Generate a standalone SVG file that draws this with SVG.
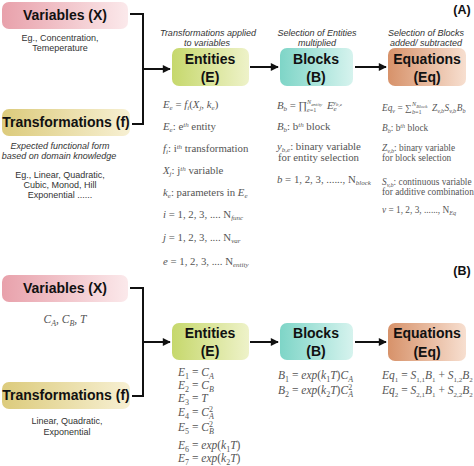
<svg xmlns="http://www.w3.org/2000/svg" width="474" height="466" viewBox="0 0 474 466">
<style>
.lbl{font-family:"Liberation Sans",Arial,sans-serif;font-weight:bold;font-size:14px;fill:#111;text-anchor:middle}
.tag{font-family:"Liberation Sans",Arial,sans-serif;font-weight:bold;font-size:12.5px;fill:#111;text-anchor:middle}
.d{font-family:"Liberation Sans",Arial,sans-serif;font-size:9px;fill:#333;text-anchor:middle}
.h{font-family:"Liberation Sans",Arial,sans-serif;font-style:italic;font-size:9px;fill:#333;text-anchor:middle}
.f{font-family:"Liberation Serif","Times New Roman",serif;font-size:10.8px;fill:#555}
.fq{font-family:"Liberation Serif","Times New Roman",serif;font-size:9.3px;fill:#555}
.g{font-family:"Liberation Serif","Times New Roman",serif;font-size:11.5px;fill:#555}
.i{font-style:italic}
.s{font-size:7px}
.t{font-size:6.2px}
.u{font-size:5px}
.s2{font-size:8px}
.ln{fill:none;stroke:#111;stroke-width:2}
</style>
<defs>
<linearGradient id="gV" x1="0" y1="0" x2="1" y2="0"><stop offset="0" stop-color="#e8a1ab"/><stop offset="1" stop-color="#fbe9eb"/></linearGradient>
<linearGradient id="gT" x1="0" y1="0" x2="1" y2="0"><stop offset="0" stop-color="#dccb7c"/><stop offset="1" stop-color="#f7f0d3"/></linearGradient>
<linearGradient id="gE" x1="0" y1="0" x2="1" y2="0"><stop offset="0" stop-color="#c6d86c"/><stop offset="1" stop-color="#eef2c9"/></linearGradient>
<linearGradient id="gB" x1="0" y1="0" x2="1" y2="0"><stop offset="0" stop-color="#7ed5c7"/><stop offset="1" stop-color="#d6f3ee"/></linearGradient>
<linearGradient id="gQ" x1="0" y1="0" x2="1" y2="0"><stop offset="0" stop-color="#d7926a"/><stop offset="1" stop-color="#f7dfd0"/></linearGradient>
<marker id="ah" viewBox="0 0 10 10" refX="9" refY="5" markerWidth="4.5" markerHeight="4" orient="auto" markerUnits="strokeWidth"><path d="M0,0 L10,5 L0,10 z" fill="#111"/></marker>
</defs>

<text class="tag" x="462" y="14">(A)</text>
<text class="tag" x="462" y="275">(B)</text>

<!-- Panel A nodes -->
<g id="a-variables">
<rect x="2" y="2" width="126" height="27" rx="7" fill="url(#gV)"/>
<text class="lbl" x="65" y="20">Variables (X)</text>
<text class="d" x="60" y="41">Eg., Concentration,</text>
<text class="d" x="60" y="51">Temeperature</text>
</g>
<g id="a-transformations">
<rect x="2" y="109" width="128" height="27" rx="7" fill="url(#gT)"/>
<text class="lbl" x="66" y="127">Transformations (f)</text>
<text class="h" x="60" y="149">Expected functional form</text>
<text class="h" x="59" y="159">based on domain knowledge</text>
<text class="d" x="60" y="178">Eg., Linear, Quadratic,</text>
<text class="d" x="60" y="188">Cubic, Monod, Hill</text>
<text class="d" x="60" y="198">Exponential ......</text>
</g>
<g id="a-entities">
<text class="h" x="208" y="36">Transformations applied</text>
<text class="h" x="207" y="46">to variables</text>
<rect x="172" y="48" width="77" height="38" rx="7" fill="url(#gE)"/>
<text class="lbl" x="210" y="64">Entities</text>
<text class="lbl" x="210" y="82">(E)</text>
<g class="f">
<text x="163" y="108"><tspan class="i">E</tspan><tspan class="i s" baseline-shift="-2">e</tspan> = <tspan class="i">f</tspan><tspan class="i s" baseline-shift="-2">i</tspan>(<tspan class="i">X</tspan><tspan class="i s" baseline-shift="-2">j</tspan>, <tspan class="i">k</tspan><tspan class="i s" baseline-shift="-2">e</tspan>)</text>
<text x="163" y="130"><tspan class="i">E</tspan><tspan class="i s" baseline-shift="-2">e</tspan>: e<tspan class="i s" baseline-shift="3.5">th</tspan> entity</text>
<text x="163" y="152"><tspan class="i">f</tspan><tspan class="i s" baseline-shift="-2">i</tspan>: i<tspan class="i s" baseline-shift="3.5">th</tspan> transformation</text>
<text x="163" y="174"><tspan class="i">X</tspan><tspan class="i s" baseline-shift="-2">j</tspan>: j<tspan class="i s" baseline-shift="3.5">th</tspan> variable</text>
<text x="163" y="196"><tspan class="i">k</tspan><tspan class="i s" baseline-shift="-2">e</tspan>: parameters in <tspan class="i">E</tspan><tspan class="i s" baseline-shift="-2">e</tspan></text>
<text x="163" y="218"><tspan class="i">i</tspan> = 1, 2, 3, .... N<tspan class="i s" baseline-shift="-2">func</tspan></text>
<text x="163" y="241"><tspan class="i">j</tspan> = 1, 2, 3, .... N<tspan class="i s" baseline-shift="-2">var</tspan></text>
<text x="163" y="265"><tspan class="i">e</tspan> = 1, 2, 3, .... N<tspan class="i s" baseline-shift="-2">entity</tspan></text>
</g>
</g>
<g id="a-blocks">
<text class="h" x="317" y="36">Selection of Entities</text>
<text class="h" x="317" y="46">multiplied</text>
<rect x="280" y="48" width="73" height="38" rx="7" fill="url(#gB)"/>
<text class="lbl" x="316" y="64">Blocks</text>
<text class="lbl" x="316" y="82">(B)</text>
<g class="f">
<text x="277" y="109"><tspan class="i">B</tspan><tspan class="i s" baseline-shift="-2">b</tspan> = ∏</text>
<text class="t" x="307" y="104"><tspan class="i">N</tspan><tspan class="i u" baseline-shift="-1.5">entity</tspan></text>
<text class="t" x="307" y="112"><tspan class="i">e</tspan>=1</text>
<text x="327" y="109"><tspan class="i">E</tspan><tspan class="i s" baseline-shift="-2">e</tspan><tspan class="i t" dx="-3.5" baseline-shift="4.5">y</tspan><tspan class="i u" baseline-shift="3.5">b,e</tspan></text>
<text x="277" y="130"><tspan class="i">B</tspan><tspan class="i s" baseline-shift="-2">b</tspan>: b<tspan class="i s" baseline-shift="3.5">th</tspan> block</text>
<text x="277" y="150"><tspan class="i">y</tspan><tspan class="i s" baseline-shift="-2">b,e</tspan>: binary variable</text>
<text x="278" y="161">for entity selection</text>
<text x="277" y="183"><tspan class="i">b</tspan> = 1, 2, 3, ......, N<tspan class="i s" baseline-shift="-2">block</tspan></text>
</g>
</g>
<g id="a-equations">
<text class="h" x="426" y="36">Selection of Blocks</text>
<text class="h" x="426" y="46">added/ subtracted</text>
<rect x="388" y="48" width="78" height="38" rx="7" fill="url(#gQ)"/>
<text class="lbl" x="427" y="64">Equations</text>
<text class="lbl" x="427" y="82">(Eq)</text>
<g class="fq">
<text x="382" y="111"><tspan class="i">Eq</tspan><tspan class="i t" baseline-shift="-2">v</tspan> = ∑</text>
<text class="t" x="412" y="106"><tspan class="i">N</tspan><tspan class="i u" baseline-shift="-1.5">Block</tspan></text>
<text class="t" x="412" y="114"><tspan class="i">b</tspan>=1</text>
<text x="432" y="111"><tspan class="i">Z</tspan><tspan class="i t" baseline-shift="-2">v,b</tspan><tspan class="i" dx="0.5">S</tspan><tspan class="i t" baseline-shift="-2">v,b</tspan><tspan class="i" dx="0.5">B</tspan><tspan class="i t" baseline-shift="-2">b</tspan></text>
<text x="382" y="131"><tspan class="i">B</tspan><tspan class="i t" baseline-shift="-2">b</tspan>: b<tspan class="i t" baseline-shift="3.5">th</tspan> block</text>
<text x="382" y="151"><tspan class="i">Z</tspan><tspan class="i t" baseline-shift="-2">v,b</tspan>: binary variable</text>
<text x="382" y="161">for block selection</text>
<text x="382" y="185"><tspan class="i">S</tspan><tspan class="i t" baseline-shift="-2">v,b</tspan>: continuous variable</text>
<text x="382" y="195">for additive combination</text>
<text x="382" y="213"><tspan class="i">v</tspan> = 1, 2, 3, ......, N<tspan class="i t" baseline-shift="-2">Eq</tspan></text>
</g>
</g>

<!-- Panel B nodes -->
<g id="b-variables">
<rect x="2" y="275" width="126" height="27" rx="7" fill="url(#gV)"/>
<text class="lbl" x="65" y="293">Variables (X)</text>
<text class="g" x="65" y="323" text-anchor="middle" font-size="12.5"><tspan class="i">C</tspan><tspan class="i s2" baseline-shift="-2.5">A</tspan>, <tspan class="i">C</tspan><tspan class="i s2" baseline-shift="-2.5">B</tspan>, <tspan class="i">T</tspan></text>
</g>
<g id="b-transformations">
<rect x="2" y="382" width="128" height="27" rx="7" fill="url(#gT)"/>
<text class="lbl" x="66" y="400">Transformations (f)</text>
<text class="d" x="67" y="424">Linear, Quadratic,</text>
<text class="d" x="67" y="435">Exponential</text>
</g>
<g id="b-entities">
<rect x="172" y="323" width="77" height="37" rx="7" fill="url(#gE)"/>
<text class="lbl" x="210" y="338">Entities</text>
<text class="lbl" x="210" y="356">(E)</text>
<g class="g">
<text x="178" y="376"><tspan class="i">E</tspan><tspan class="s2" baseline-shift="-2.5">1</tspan> = <tspan class="i">C</tspan><tspan class="i s2" baseline-shift="-2.5">A</tspan></text>
<text x="178" y="389"><tspan class="i">E</tspan><tspan class="s2" baseline-shift="-2.5">2</tspan> = <tspan class="i">C</tspan><tspan class="i s2" baseline-shift="-2.5">B</tspan></text>
<text x="178" y="402"><tspan class="i">E</tspan><tspan class="s2" baseline-shift="-2.5">3</tspan> = <tspan class="i">T</tspan></text>
<text x="178" y="416"><tspan class="i">E</tspan><tspan class="s2" baseline-shift="-2.5">4</tspan> = <tspan class="i">C</tspan><tspan class="s2" baseline-shift="4">2</tspan><tspan class="i s2" dx="-4" baseline-shift="-2.5">A</tspan></text>
<text x="178" y="431"><tspan class="i">E</tspan><tspan class="s2" baseline-shift="-2.5">5</tspan> = <tspan class="i">C</tspan><tspan class="s2" baseline-shift="4">2</tspan><tspan class="i s2" dx="-4" baseline-shift="-2.5">B</tspan></text>
<text x="178" y="449"><tspan class="i">E</tspan><tspan class="s2" baseline-shift="-2.5">6</tspan> = <tspan class="i">exp</tspan>(<tspan class="i">k</tspan><tspan class="s2" baseline-shift="-2.5">1</tspan><tspan class="i">T</tspan>)</text>
<text x="178" y="462"><tspan class="i">E</tspan><tspan class="s2" baseline-shift="-2.5">7</tspan> = <tspan class="i">exp</tspan>(<tspan class="i">k</tspan><tspan class="s2" baseline-shift="-2.5">2</tspan><tspan class="i">T</tspan>)</text>
</g>
</g>
<g id="b-blocks">
<rect x="280" y="323" width="73" height="37" rx="7" fill="url(#gB)"/>
<text class="lbl" x="316" y="338">Blocks</text>
<text class="lbl" x="316" y="356">(B)</text>
<g class="g" font-size="12px">
<text x="278" y="379"><tspan class="i">B</tspan><tspan class="s2" baseline-shift="-2.5">1</tspan> = <tspan class="i">exp</tspan>(<tspan class="i">k</tspan><tspan class="s2" baseline-shift="-2.5">1</tspan><tspan class="i">T</tspan>)<tspan class="i">C</tspan><tspan class="i s2" baseline-shift="-2.5">A</tspan></text>
<text x="278" y="394"><tspan class="i">B</tspan><tspan class="s2" baseline-shift="-2.5">2</tspan> = <tspan class="i">exp</tspan>(<tspan class="i">k</tspan><tspan class="s2" baseline-shift="-2.5">2</tspan><tspan class="i">T</tspan>)<tspan class="i">C</tspan><tspan class="s2" baseline-shift="4">2</tspan><tspan class="i s2" dx="-4" baseline-shift="-2.5">A</tspan></text>
</g>
</g>
<g id="b-equations">
<rect x="388" y="323" width="78" height="38" rx="7" fill="url(#gQ)"/>
<text class="lbl" x="427" y="338">Equations</text>
<text class="lbl" x="427" y="357">(Eq)</text>
<g class="g" font-size="10.5px">
<text x="382" y="379"><tspan class="i">Eq</tspan><tspan class="s" baseline-shift="-2.5">1</tspan> = <tspan class="i">S</tspan><tspan class="s" baseline-shift="-2.5">1,1</tspan><tspan class="i">B</tspan><tspan class="s" baseline-shift="-2.5">1</tspan> + <tspan class="i">S</tspan><tspan class="s" baseline-shift="-2.5">1,2</tspan><tspan class="i">B</tspan><tspan class="s" baseline-shift="-2.5">2</tspan></text>
<text x="382" y="394"><tspan class="i">Eq</tspan><tspan class="s" baseline-shift="-2.5">2</tspan> = <tspan class="i">S</tspan><tspan class="s" baseline-shift="-2.5">2,1</tspan><tspan class="i">B</tspan><tspan class="s" baseline-shift="-2.5">1</tspan> + <tspan class="i">S</tspan><tspan class="s" baseline-shift="-2.5">2,2</tspan><tspan class="i">B</tspan><tspan class="s" baseline-shift="-2.5">2</tspan></text>
</g>
</g>

<g id="connectors">
<path class="ln" d="M130,14 H143 V124 H132"/>
<path class="ln" d="M143,69 H170" marker-end="url(#ah)"/>
<path class="ln" d="M250,67 H278" marker-end="url(#ah)"/>
<path class="ln" d="M355,67 H386" marker-end="url(#ah)"/>
<path class="ln" d="M130,288 H143 V396 H132"/>
<path class="ln" d="M143,342 H170" marker-end="url(#ah)"/>
<path class="ln" d="M250,342 H278" marker-end="url(#ah)"/>
<path class="ln" d="M355,342 H386" marker-end="url(#ah)"/>
</g>
</svg>
